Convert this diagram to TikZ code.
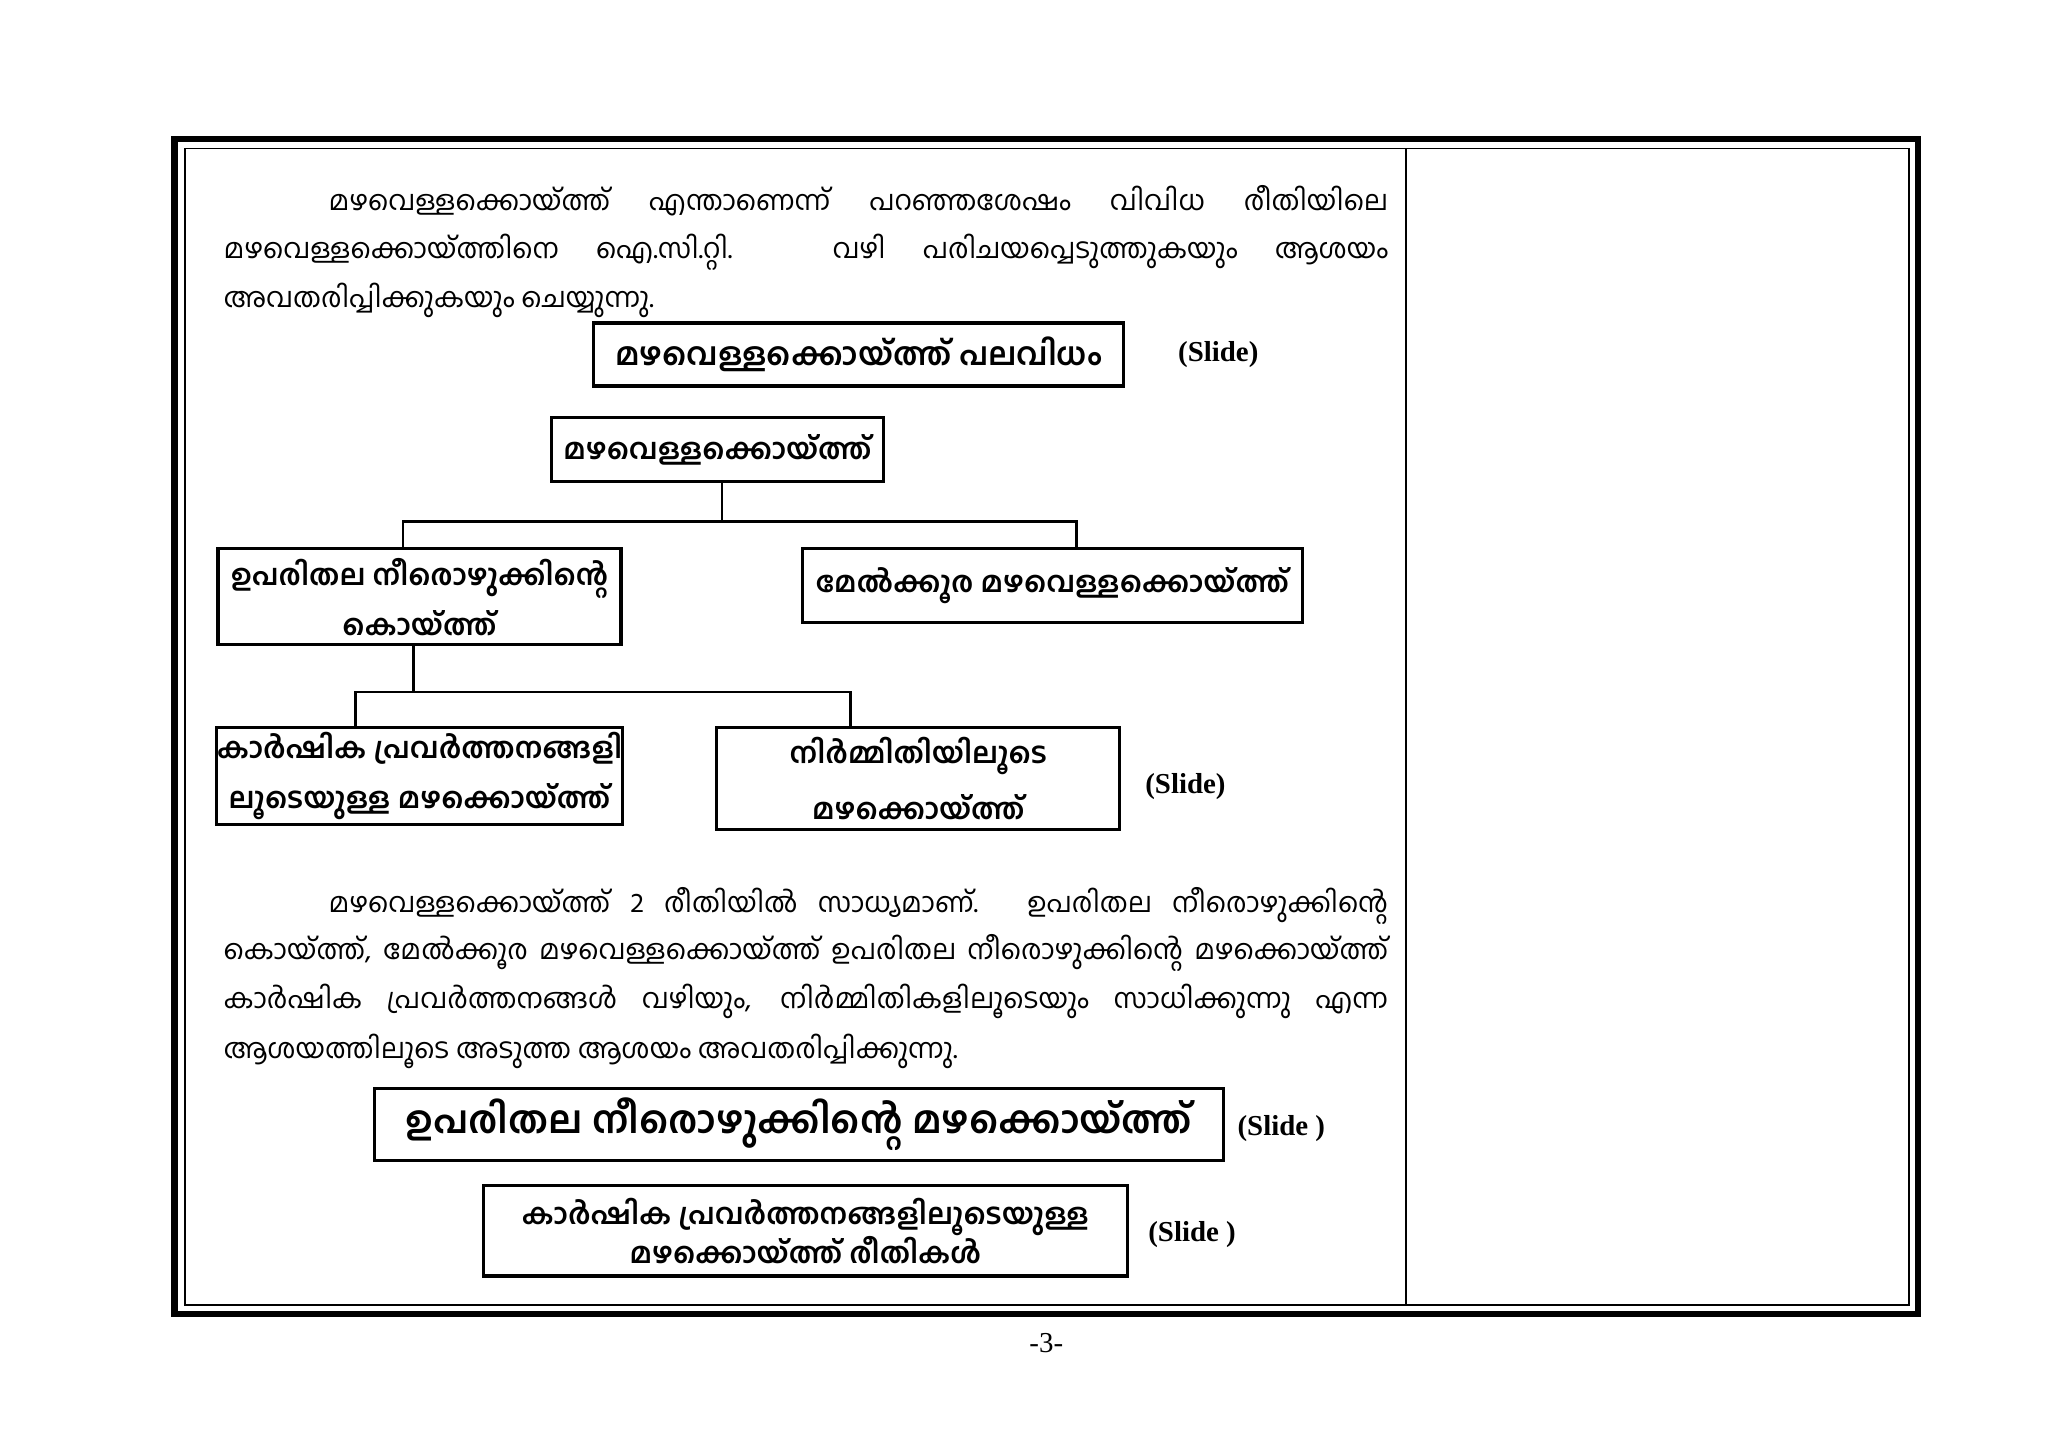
\documentclass[tikz,border=0pt]{standalone}
\usepackage{fontspec}
\newfontfamily\ml[Script=Malayalam]{Hind Kochi}
\setmainfont{Liberation Serif}
\newcommand{\jl}[2]{\hbox to #1{\spaceskip=.25em plus 1fil\relax #2}}
\tikzset{
 bx/.style={draw,line width=1.2pt,inner sep=0,font=\ml\bfseries\fontsize{11}{19}\selectfont,align=center},
 conn/.style={line width=1pt},
 txt/.style={anchor=base west,inner sep=0,font=\ml\fontsize{10.5}{18}\selectfont},
 sl/.style={font=\bfseries\fontsize{11}{13}\selectfont,inner sep=0}
}
\begin{document}
\begin{tikzpicture}[x=0.5pt,y=-0.5pt]
\useasboundingbox[fill=white] (0,0) rectangle (1560,1102);
\draw[line width=2.5pt] (133,106) rectangle (1461,1001);
\draw[line width=0.6pt] (141,113) rectangle (1454,994);
\draw[line width=0.8pt] (1071,113) -- (1071,994);
% paragraph 1
\node[txt] (p1a) at (250,160) {\jl{403.5pt}{മഴവെള്ളക്കൊയ്ത്ത് എന്താണെന്ന് പറഞ്ഞശേഷം വിവിധ രീതിയിലെ}};
\node[txt] (p1b) at (170,197) {\jl{443.5pt}{മഴവെള്ളക്കൊയ്ത്തിനെ ഐ.സി.റ്റി. വഴി പരിചയപ്പെടുത്തുകയും ആശയം}};
\node[txt] (p1c) at (170,234) {അവതരിപ്പിക്കുകയും ചെയ്യുന്നു.};
% title box
\node[bx,minimum width=202pt,minimum height=24pt,font=\ml\bfseries\fontsize{12}{16}\selectfont] (t) at (654,270) {മഴവെള്ളക്കൊയ്ത്ത് പലവിധം};
\node[sl] (s1) at (928,270) {(Slide)};
% tree
\node[bx,minimum width=126.5pt,minimum height=24.5pt] (r) at (546.5,342.5) {മഴവെള്ളക്കൊയ്ത്ത്};
\node[bx,minimum width=153.5pt,minimum height=36.5pt] (a) at (319.5,454.5) {ഉപരിതല നീരൊഴുക്കിന്റെ\\കൊയ്ത്ത്};
\node[bx,minimum width=190.5pt,minimum height=28pt] (b) at (801.5,446) {മേൽക്കൂര മഴവെള്ളക്കൊയ്ത്ത്};
\node[bx,minimum width=153.5pt,minimum height=37pt] (c) at (319.5,591) {കാർഷിക പ്രവർത്തനങ്ങളി\\ലൂടെയുള്ള മഴക്കൊയ്ത്ത്};
\node[bx,minimum width=153.5pt,minimum height=39pt] (d) at (699.5,593) {നിർമ്മിതിയിലൂടെ\\[2pt]മഴക്കൊയ്ത്ത്};
\node[sl] (s2) at (903,599) {(Slide)};
\coordinate (j1) at (550,397);
\coordinate (j2) at (315,527);
\draw[conn] (r.south -| j1) -- (j1);
\draw[conn] (a.north -| 307,0) -- (307,397) -- (820,397) -- (b.north -| 820,0);
\draw[conn] (a.south -| j2) -- (j2);
\draw[conn] (c.north -| 271,0) -- (271,527) -- (648,527) -- (d.north -| 648,0);
% paragraph 2
\node[txt] (p2a) at (250,695) {\jl{403.5pt}{മഴവെള്ളക്കൊയ്ത്ത് 2 രീതിയിൽ സാധ്യമാണ്. ഉപരിതല നീരൊഴുക്കിന്റെ}};
\node[txt] (p2b) at (170,731) {\jl{443.5pt}{കൊയ്ത്ത്, മേൽക്കൂര മഴവെള്ളക്കൊയ്ത്ത് ഉപരിതല നീരൊഴുക്കിന്റെ മഴക്കൊയ്ത്ത്}};
\node[txt] (p2c) at (170,768) {\jl{443.5pt}{കാർഷിക പ്രവർത്തനങ്ങൾ വഴിയും, നിർമ്മിതികളിലൂടെയും സാധിക്കുന്നു എന്ന}};
\node[txt] (p2d) at (170,806) {ആശയത്തിലൂടെ അടുത്ത ആശയം അവതരിപ്പിക്കുന്നു.};
% bottom boxes
\node[bx,minimum width=323.5pt,minimum height=27.5pt,font=\ml\bfseries\fontsize{14.5}{18}\selectfont] (e) at (608.5,856.5) {ഉപരിതല നീരൊഴുക്കിന്റെ മഴക്കൊയ്ത്ത്};
\node[sl] (s3) at (976,860) {(Slide )};
\node[bx,minimum width=245.5pt,minimum height=34.5pt,font=\ml\bfseries\fontsize{11}{15}\selectfont] (f) at (613.5,937.5) {കാർഷിക പ്രവർത്തനങ്ങളിലൂടെയുള്ള\\മഴക്കൊയ്ത്ത് രീതികൾ};
\node[sl] (s4) at (908,940) {(Slide )};
\node[inner sep=0,font=\fontsize{11}{12}\selectfont] (pg) at (797,1023) {-3-};
\end{tikzpicture}
\end{document}
